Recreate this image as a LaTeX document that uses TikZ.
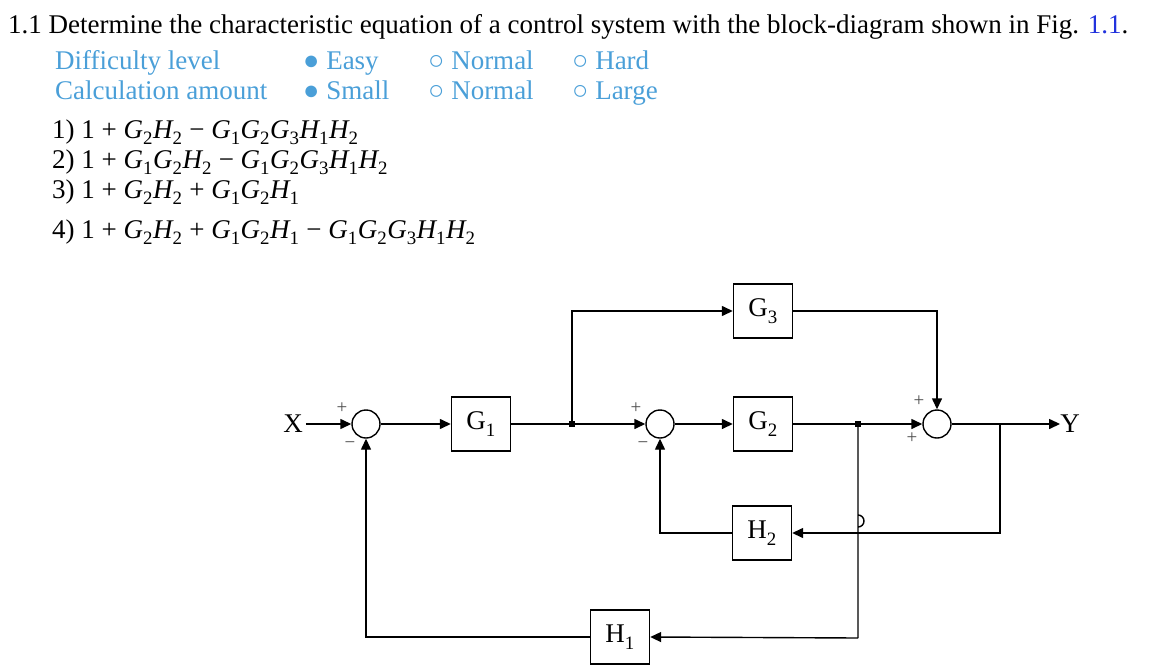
\documentclass[tikz,border=0pt]{standalone}
\usepackage{fontspec}
\setmainfont{Liberation Serif}
\usepackage{unicode-math}
\setmathfont{Latin Modern Math}
\setmathfont[range=it]{Liberation Serif Italic}
\setmathfont[range=up]{Liberation Serif}
\usetikzlibrary{arrows.meta}
\definecolor{qblue}{HTML}{4A9FD8}
\definecolor{lnk}{HTML}{2233DD}
\begin{document}
\begin{tikzpicture}[x=1pt,y=-1pt,
  txt/.style={anchor=base west,inner sep=0,font=\fontsize{27}{30}\selectfont},
  blu/.style={txt,text=qblue},
  blk/.style={draw,line width=1.4pt,minimum width=59pt,minimum height=54pt,inner sep=0,font=\fontsize{27}{30}\selectfont},
  sum/.style={draw,circle,line width=1.4pt,minimum size=28pt,inner sep=0},
  sgn/.style={font=\fontsize{19}{19}\selectfont,text=black!70,inner sep=0},
  ln/.style={line width=1.4pt},
  ar/.style={ln,-{Triangle[length=11pt,width=10pt]}},
  dot/.style={rectangle,fill,inner sep=0,minimum size=6pt}]
\useasboundingbox (0,0) rectangle (1152,672);
\node[txt] (t) at (8,33) {1.1 Determine the characteristic equation of a control system with the block-diagram shown in Fig. \textcolor{lnk}{1.1}.};
\node[blu] (d0) at (55,69) {Difficulty level};
\node[blu] (d1) at (303,69) {● Easy};
\node[blu] (d2) at (428,69) {○ Normal};
\node[blu] (d3) at (572,69) {○ Hard};
\node[blu] (c0) at (55,99) {Calculation amount};
\node[blu] (c1) at (303,99) {● Small};
\node[blu] (c2) at (428,99) {○ Normal};
\node[blu] (c3) at (572,99) {○ Large};
\node[txt] (o1) at (52,138) {1) 1 + $G_2H_2$ − $G_1G_2G_3H_1H_2$};
\node[txt] (o2) at (52,168) {2) 1 + $G_1G_2H_2$ − $G_1G_2G_3H_1H_2$};
\node[txt] (o3) at (52,198) {3) 1 + $G_2H_2$ + $G_1G_2H_1$};
\node[txt] (o4) at (52,238) {4) 1 + $G_2H_2$ + $G_1G_2H_1$ − $G_1G_2G_3H_1H_2$};
% diagram
\node[font=\fontsize{27}{30}\selectfont,inner sep=0] (X) at (293,424) {X};
\node[sum] (s1) at (366,424) {};
\node[blk] (g1) at (481,424) {G\textsubscript{1}};
\node[dot] (j1) at (572,424) {};
\node[sum] (s2) at (660,424) {};
\node[blk] (g2) at (763,424) {G\textsubscript{2}};
\node[blk] (g3) at (763,311) {G\textsubscript{3}};
\node[dot] (j2) at (858,424) {};
\node[sum] (s3) at (937,424) {};
\coordinate (j3) at (1000,424);
\node[font=\fontsize{27}{30}\selectfont,inner sep=0] (Y) at (1070,424) {Y};
\node[blk] (h2) at (762,533) {H\textsubscript{2}};
\node[blk] (h1) at (620,637) {H\textsubscript{1}};
\node[sgn] at (342,408) {+};
\node[sgn] at (350,445) {−};
\node[sgn] at (636,408) {+};
\node[sgn] at (643,445) {−};
\node[sgn] at (919,401) {+};
\node[sgn] at (912,438) {+};
\draw[ar] (X.east) ++(3,0) -- (s1.west);
\draw[ar] (s1.east) -- (g1.west);
\draw[ln] (g1.east) -- (j1);
\draw[ar] (j1) -- (s2.west);
\draw[ar] (j1.center) |- (g3.west);
\draw[ar] (s2.east) -- (g2.west);
\draw[ln] (g2.east) -- (j2);
\draw[ar] (j2) -- (s3.west);
\draw[ar] (g3.east) -| (s3.north);
\draw[ar] (s3.east) -- (Y.west);
\draw[ar] (j3) |- (h2.east);
\draw[ln] (j2.center) -- (858,527) arc[start angle=90,end angle=-90,radius=6] -- (858,638);
\draw[ar] (858,638) -- (h1.east);
\draw[ar] (h2.west) -| (s2.south);
\draw[ar] (h1.west) -| (s1.south);
\end{tikzpicture}
\end{document}
